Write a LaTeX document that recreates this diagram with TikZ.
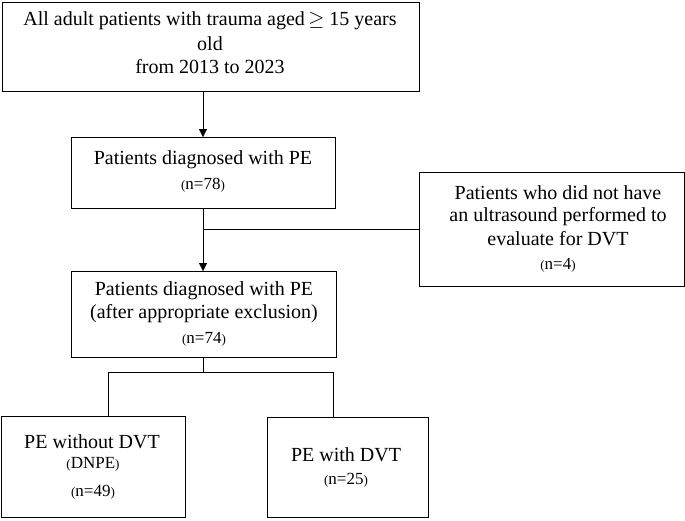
\documentclass[tikz,border=0pt]{standalone}
\usepackage{fontspec}
\setmainfont{Liberation Serif}
\usepackage{tikz}
\usetikzlibrary{arrows.meta}
\newcommand{\cnt}[1]{{\fontsize{13}{15}\selectfont(}#1{\fontsize{13}{15}\selectfont)}}

\begin{document}
\begin{tikzpicture}[x=1pt,y=-1pt,
boxstyle/.style={draw,thick,fill=white},
txt/.style={font=\fontsize{20}{24}\selectfont,inner sep=0pt},
small/.style={font=\fontsize{17}{20}\selectfont,inner sep=0pt},
line/.style={thin},
arr/.style={thin,-{Triangle[length=8pt,width=8pt]}}]
\useasboundingbox (0,0) rectangle (685,520);

% boxes
\draw[boxstyle] (2,2) rectangle (419,91);
\draw[boxstyle] (71,137) rectangle (335,208);
\draw[boxstyle] (419,172) rectangle (684,286);
\draw[boxstyle] (71,271) rectangle (336,357);
\draw[boxstyle] (1,416) rectangle (185,517);
\draw[boxstyle] (267,417) rectangle (428,517);

% texts
\node[txt] (t1a) at (210,21) {All adult patients with trauma aged$\,\geq$ 15 years};
\node[txt] (t1b) at (210,44) {old};
\node[txt] (t1c) at (210,67) {from 2013 to 2023};
\node[txt] (t2a) at (203,160) {Patients diagnosed with PE};
\node[small] (t2b) at (203,185) {\cnt{n=78}};
\node[txt] (t3a) at (558,193) {Patients who did not have};
\node[txt] (t3b) at (558,217) {an ultrasound performed to};
\node[txt] (t3c) at (558,239) {evaluate for DVT};
\node[small] (t3d) at (558,265) {\cnt{n=4}};
\node[txt] (t4a) at (204,291) {Patients diagnosed with PE};
\node[txt] (t4b) at (204,314) {(after appropriate exclusion)};
\node[small] (t4c) at (204,339) {\cnt{n=74}};
\node[txt] (t5a) at (92,442) {PE without DVT};
\node[small] (t5b) at (93,464) {\cnt{DNPE}};
\node[small] (t5c) at (93,492) {\cnt{n=49}};
\node[txt] (t6a) at (346,455) {PE with DVT};
\node[small] (t6b) at (346,480) {\cnt{n=25}};

% connectors
\coordinate (b1) at (203,91);
\coordinate (b2) at (203,137);
\coordinate (b2s) at (203,208);
\coordinate (b4) at (203,271);
\coordinate (j1) at (203,229);
\coordinate (r1) at (419,229);
\coordinate (b4s) at (203,357);
\coordinate (j2) at (203,372);
\coordinate (l2) at (108,372);
\coordinate (r2) at (333,372);
\coordinate (b5) at (108,416);
\coordinate (b6) at (333,417);
\draw[arr] (b1) -- (b2);
\draw[arr] (b2s) -- (b4);
\draw[line] (j1) -- (r1);
\draw[line] (b4s) -- (j2);
\draw[line] (l2) -- (r2);
\draw[line] (l2) -- (b5);
\draw[line] (r2) -- (b6);
\end{tikzpicture}
\end{document}
